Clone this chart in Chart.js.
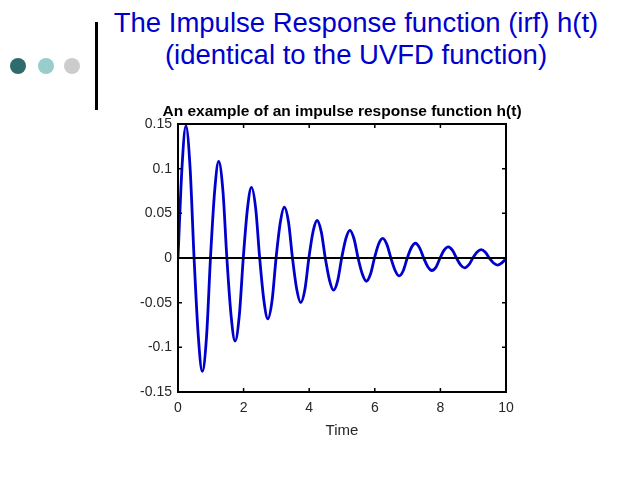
<!DOCTYPE html>
<html>
<head>
<meta charset="utf-8">
<script src="https://cdn.jsdelivr.net/npm/chart.js@4.4.1/dist/chart.umd.min.js"></script>
<style>
    body { margin: 0; background: #fff; width: 638px; height: 478px; overflow: hidden; position: relative; }
    #slideTitle {
        position: absolute; left: 56px; top: 7px; width: 600px;
        text-align: center; font-family: "Liberation Sans", Arial, sans-serif;
        font-size: 27.5px; line-height: 32px; color: #0000CC;
    }
    .dot { position: absolute; width: 16px; height: 16px; border-radius: 50%; top: 58px; }
    #bar { position: absolute; left: 95px; top: 22px; width: 3px; height: 88px; background: #000; }
    #chartBox { position: absolute; left: 0; top: 0; width: 638px; height: 478px; }
</style>
</head>
<body>
<div class="dot" style="left:10px;background:#2F6B6B"></div>
<div class="dot" style="left:38px;background:#99CCCC"></div>
<div class="dot" style="left:64px;background:#CCCCCC"></div>
<div id="bar"></div>
<div id="slideTitle">The Impulse Response function (irf) h(t)<br>(identical to the UVFD function)</div>
<div id="chartBox"><canvas id="irfChart" width="638" height="478"></canvas></div>
<script>
// h(t), one row per cycle (zero, rise, peak, fall, zero, ..., trough, ...)
var timePoints = [
    0, 0.12, 0.24, 0.37, 0.49, 0.62, 0.74, 0.87,
    0.99, 1.12, 1.24, 1.37, 1.49, 1.62, 1.74, 1.87,
    1.99, 2.12, 2.24, 2.37, 2.49, 2.62, 2.74, 2.87,
    2.99, 3.12, 3.24, 3.37, 3.49, 3.62, 3.74, 3.87,
    3.99, 4.12, 4.24, 4.37, 4.49, 4.62, 4.74, 4.87,
    4.99, 5.12, 5.24, 5.37, 5.49, 5.62, 5.74, 5.87,
    5.99, 6.12, 6.24, 6.37, 6.49, 6.62, 6.74, 6.87,
    6.99, 7.12, 7.24, 7.37, 7.49, 7.62, 7.74, 7.87,
    7.99, 8.12, 8.24, 8.37, 8.49, 8.62, 8.74, 8.87,
    8.99, 9.12, 9.24, 9.37, 9.49, 9.62, 9.74, 9.87,
    10
];
var responseValues = [
    0, 0.100, 0.148, 0.100, 0, -0.088, -0.127, -0.088,
    0, 0.076, 0.108, 0.075, 0, -0.065, -0.093, -0.064,
    0, 0.056, 0.079, 0.055, 0, -0.048, -0.068, -0.047,
    0, 0.040, 0.057, 0.040, 0, -0.035, -0.050, -0.035,
    0, 0.030, 0.042, 0.029, 0, -0.025, -0.036, -0.025,
    0, 0.022, 0.031, 0.021, 0, -0.018, -0.026, -0.018,
    0, 0.016, 0.022, 0.015, 0, -0.014, -0.020, -0.014,
    0, 0.012, 0.0165, 0.011, 0, -0.010, -0.014, -0.010,
    0, 0.009, 0.0124, 0.0085, 0, -0.008, -0.011, -0.0075,
    0, 0.0067, 0.0094, 0.0065, 0, -0.0056, -0.008, -0.0056,
    -0.001
];
var xTicks = [0, 2, 4, 6, 8, 10];
var yTicks = [-0.15, -0.1, -0.05, 0, 0.05, 0.1, 0.15];
var yTickLabels = ['-0.15', '-0.1', '-0.05', '0', '0.05', '0.1', '0.15'];
var plotTitle = 'An example of an impulse response function h(t)';

var fontFamily = '"Liberation Sans", Arial, sans-serif';

// box round the plot with inward ticks, matlab style, plus the plot title
var boxPlugin = {
    id: 'boxTicks',
    afterDatasetsDraw: function (chart) {
        var ctx = chart.ctx, a = chart.chartArea;
        var xs = chart.scales.x, ys = chart.scales.y;
        var len = 4;
        ctx.save();
        ctx.strokeStyle = '#000';
        ctx.lineWidth = 1.5;
        xTicks.forEach(function (v) {
            var px = xs.getPixelForValue(v);
            ctx.beginPath();
            ctx.moveTo(px, a.bottom); ctx.lineTo(px, a.bottom - len);
            ctx.moveTo(px, a.top); ctx.lineTo(px, a.top + len);
            ctx.stroke();
        });
        yTicks.forEach(function (v) {
            var py = ys.getPixelForValue(v);
            ctx.beginPath();
            ctx.moveTo(a.left, py); ctx.lineTo(a.left + len, py);
            ctx.moveTo(a.right, py); ctx.lineTo(a.right - len, py);
            ctx.stroke();
        });
        ctx.lineWidth = 2;
        ctx.strokeRect(a.left, a.top, a.right - a.left, a.bottom - a.top);

        // title is wider than the plot, so draw it here instead of the title plugin
        ctx.fillStyle = '#000';
        ctx.font = 'bold 15.5px ' + fontFamily;
        ctx.textAlign = 'center';
        ctx.textBaseline = 'alphabetic';
        ctx.fillText(plotTitle, (a.left + a.right) / 2, a.top - 8);
        ctx.restore();
    }
};

var curve = timePoints.map(function (t, i) { return {x: t, y: responseValues[i]}; });
var zeroLine = [{x: xTicks[0], y: 0}, {x: xTicks[xTicks.length - 1], y: 0}];

var ctx = document.getElementById('irfChart');
window.irfChart = new Chart(ctx, {
    type: 'scatter',
    data: {
        datasets: [{
            data: zeroLine,
            showLine: true,
            borderColor: '#000',
            borderWidth: 2,
            pointRadius: 0
        }, {
            data: curve,
            showLine: true,
            borderColor: '#0000CC',
            borderWidth: 2.8,
            pointRadius: 0,
            cubicInterpolationMode: 'monotone'
        }]
    },
    options: {
        responsive: false,
        animation: false,
        layout: {padding: {left: 100, right: 132, top: 124, bottom: 36}},
        plugins: {
            legend: {display: false},
            tooltip: {enabled: false},
            title: {display: false}
        },
        scales: {
            x: {
                type: 'linear',
                min: 0, max: 10,
                grid: {display: false, drawTicks: false},
                border: {display: false},
                afterBuildTicks: function (scale) {
                    scale.ticks = xTicks.map(function (v) { return {value: v}; });
                },
                afterFit: function (scale) { scale.height = 50; },
                ticks: {
                    padding: 8,
                    color: '#262626',
                    font: {family: fontFamily, size: 14},
                    maxRotation: 0
                },
                title: {
                    display: true,
                    text: 'Time',
                    color: '#262626',
                    font: {family: fontFamily, size: 15},
                    padding: {top: 0, bottom: 2}
                }
            },
            y: {
                min: -0.15, max: 0.15,
                grid: {display: false, drawTicks: false},
                border: {display: false},
                afterBuildTicks: function (scale) {
                    scale.ticks = yTicks.map(function (v) { return {value: v}; });
                },
                afterFit: function (scale) { scale.width = 78; },
                ticks: {
                    padding: 6,
                    color: '#262626',
                    font: {family: fontFamily, size: 14},
                    callback: function (v, i) { return yTickLabels[i]; }
                }
            }
        }
    },
    plugins: [boxPlugin]
});
</script>
</body>
</html>
